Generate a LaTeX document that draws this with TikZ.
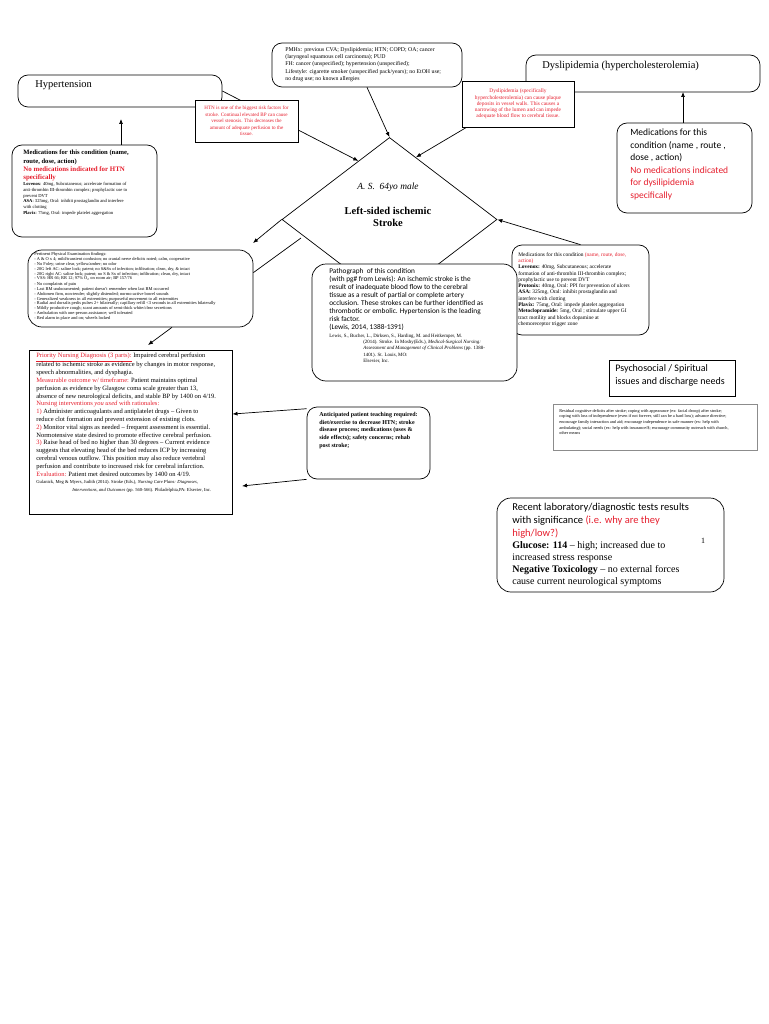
\documentclass[tikz,border=0pt]{standalone}
\usepackage{fontspec}
\setmainfont{Liberation Serif}
\newfontfamily\calibri{Carlito}
\usetikzlibrary{arrows.meta,shapes.geometric,shadows}
\definecolor{notered}{RGB}{230,30,45}
\newcommand{\fsz}[2]{\fontsize{#1}{#2}\selectfont}

\begin{document}
\begin{tikzpicture}[x=1pt,y=-1pt,line width=0.7pt,>={Latex[length=5pt,width=4pt]},
    bubble/.style={draw,fill=white,rounded corners=10pt,inner sep=0pt},
    redbox/.style={draw,fill=white,inner sep=0pt,align=center,text=notered,
      drop shadow={shadow xshift=1.3pt,shadow yshift=-1.3pt,opacity=1,fill=black}},
    txt/.style={inner sep=0pt,anchor=north west,align=flush left}]
  \fill[white] (0,0) rectangle (768,1024);
  \useasboundingbox (0,0) rectangle (768,1024);

  % history and the two conditions on top
  \node[bubble,minimum width=190pt,minimum height=44pt] (pmhx) at (367,65) {};
  \node[txt,font=\fsz{5.8}{7.3}] at (285,47) {PMHx: previous CVA; Dyslipidemia; HTN; COPD; OA; cancer\\
    (laryngeal squamous cell carcinoma); PUD\\
    FH: cancer (unspecified); hypertension (unspecified);\\
    Lifestyle: cigarette smoker (unspecified pack/years); no EtOH use;\\
    no drug use; no known allergies};
  \node[bubble,minimum width=204pt,minimum height=32pt] (htn) at (120,91) {};
  \node[anchor=base west,inner sep=0pt,font=\fsz{10.5}{12}] at (35,88) {Hypertension};
  \node[bubble,minimum width=234pt,minimum height=37pt] (dys) at (643,73.5) {};
  \node[anchor=base west,inner sep=0pt,font=\fsz{10.5}{12}] at (542,69) {Dyslipidemia (hypercholesterolemia)};

  % medications under each condition
  \node[bubble,minimum width=145pt,minimum height=92pt] (htnmeds) at (84.5,191) {};
  \node[txt,text width=132pt] at (23,150) {%
    {\fsz{6.6}{9}\bfseries Medications for this condition (name,\\ route, dose, action)\par}
    {\fsz{6.9}{8}\bfseries\color{notered} No medications indicated for HTN\\ specifically\par}
    {\fsz{4.6}{5.7}\textbf{Lovenox}: 40mg, Subcutaneous; accelerate formation of\\
      anti-thrombin III-thrombin complex; prophylactic use to\\ prevent DVT\\
      \textbf{ASA}: 325mg, Oral: inhibit prostaglandin and interfere\\ with clotting\\
      \textbf{Plavix}: 75mg, Oral: impede platelet aggregation\par}};
  \node[bubble,minimum width=135pt,minimum height=90pt] (dysmeds) at (684.5,168) {};
  \node[txt,font=\calibri\fsz{9.5}{12.5}] at (630,129) {Medications for this\\
    condition (name , route ,\\ dose , action)\\
    \textcolor{notered}{No medications indicated}\\
    \textcolor{notered}{for dysilipidemia}\\
    \textcolor{notered}{specifically}};
  \coordinate (htntip) at (121,119);
  \coordinate (dystip) at (683,92);
  \draw[->] (htnmeds.north -| htntip) -- (htntip);
  \draw[->] (dysmeds.north -| dystip) -- (dystip);

  % the diagnosis
  \node[draw,diamond,minimum width=215pt,minimum height=164pt,inner sep=0pt] (stroke) at (389.5,219.5) {};
  \node[font=\fsz{9.4}{11}\itshape] at (388,187) {A. S.\ \ 64yo male};
  \node[font=\fsz{10.5}{12}\bfseries,align=center] at (388,217) {Left-sided ischemic\\Stroke};

  \draw[->] (pmhx.south) -- (stroke.north);
  \draw[->] (htn.east) -- (stroke.118);
  \draw[->] (dys.south west) -- (stroke.67);

  % red notes sit over the connectors
  \node[redbox,minimum width=103pt,minimum height=42pt,font=\fsz{5.1}{6.6}] (htnnote) at (246.5,121)
    {HTN is one of the biggest risk factors for\\ stroke. Continual elevated BP can cause\\
     vessel stenosis. This decreases the\\ amount of adequate perfusion to the\\ tissue.};
  \node[redbox,minimum width=112pt,minimum height=46pt,font=\fsz{5.4}{6.2}] (dysnote) at (518,104)
    {Dyslipidemia (specifically\\ hypercholesterolemia) can cause plaque\\
     deposits in vessel walls. This causes a\\ narrowing of the lumen and can impede\\
     adequate blood flow to cerebral tissue.};

  % physical exam
  \node[bubble,rounded corners=14pt,minimum width=225pt,minimum height=77pt] (exam) at (140.5,288.5) {};
  \node[txt,font=\fsz{4.4}{4.8}] at (34,252.5) {Pertinent Physical Examination findings:\\
    - A \& O x 4; mild/transient confusion; no cranial nerve deficits noted; calm, cooperative\\
    - No Foley; urine clear, yellow/amber; no odor\\
    - 20G left AC: saline lock; patent; no S\&Sx of infection; infiltration; clean, dry, \& intact\\
    - 20G right AC: saline lock; patent; no S \& Sx of infection; infiltration; clean, dry, intact\\
    - VSS: HR 66; RR 12; 97\% O\textsubscript{2} on room air; BP 157/76\\[1pt]
    - No complaints of pain\\
    - Last BM undocumented; patient doesn't remember when last BM occurred\\
    - Abdomen firm, non-tender; slightly distended; normo-active bowel sounds\\
    - Generalized weakness in all extremities; purposeful movement to all extremities\\
    - Radial and dorsalis pedis pulses 2+ bilaterally; capillary refill <3 seconds in all extremities bilaterally\\
    - Mildly productive cough; scant amounts of semi-thick white/clear secretions\\
    - Ambulation with one-person assistance; well tolerated\\
    - Bed alarm in place and on; wheels locked};
  \coordinate (examtip) at (253,243);
  \coordinate (examend) at (301,238);
  \draw[->] (stroke.west) -- (examtip);
  \draw (exam.8) -- (examend);

  % right hand medications
  \node[bubble,minimum width=137pt,minimum height=90pt] (rmeds) at (580.5,290) {};
  \node[txt,font=\fsz{5.4}{6.3}] at (518,252) {Medications for this condition \textcolor{notered}{(name, route, dose,}\\
    \textcolor{notered}{action)}\\
    \textbf{Lovenox:} 40mg, Subcutaneous; accelerate\\
    formation of anti-thrombin III-thrombin complex;\\
    prophylactic use to prevent DVT\\
    \textbf{Protonix:} 40mg, Oral: PPI for prevention of ulcers\\
    \textbf{ASA:} 325mg, Oral: inhibit prostaglandin and\\
    interfere with clotting\\
    \textbf{Plavix:} 75mg, Oral: impede platelet aggregation\\
    \textbf{Metoclopramide:} 5mg, Oral ; stimulate upper GI\\
    tract motility and blocks dopamine at\\
    chemoreceptor trigger zone};
  \draw[->] (rmeds.north) -- (stroke.east);

  % pathograph covers the lower tip of the diamond
  \node[bubble,rounded corners=14pt,minimum width=205pt,minimum height=117pt] (patho) at (414.5,322.5) {};
  \node[txt,font=\calibri\fsz{7.3}{7.9}] at (329,268.5) {Pathograph\ \ of this condition\\
    (with pg\# from Lewis): An ischemic stroke is the\\
    result of inadequate blood flow to the cerebral\\
    tissue as a result of partial or complete artery\\
    occlusion. These strokes can be further identified as\\
    thrombotic or embolic. Hypertension is the leading\\
    risk factor.\\
    (Lewis, 2014, 1388-1391)};
  \node[txt,font=\fsz{4.9}{6.3}] at (329,333.5) {Lewis, S., Bucher, L., Dirksen, S., Harding, M. and Heitkemper, M.\\
    \hspace*{34pt}(2014). Stroke. In Mosby(Eds.), \textit{Medical-Surgical Nursing:}\\
    \hspace*{34pt}\textit{Assessment and Management of Clinical Problems} (pp. 1388-\\
    \hspace*{34pt}1401). St. Louis, MO:\\
    \hspace*{34pt}Elsevier, Inc.};

  % nursing diagnosis
  \node[draw,line width=1pt,minimum width=203pt,minimum height=164pt,inner sep=0pt] (prio) at (130.5,432) {};
  \node[txt,font=\fsz{6.5}{7.8}] at (36,353) {\textcolor{notered}{\underline{Priority Nursing Diagnosis (3 parts):}} Impaired cerebral perfusion\\
    related to ischemic stroke as evidence by changes in motor response,\\
    speech abnormalities, and dysphagia.\\
    \textcolor{notered}{Measurable outcome w/ timeframe:} Patient maintains optimal\\
    perfusion as evidence by Glasgow coma scale greater than 13,\\
    absence of new neurological deficits, and stable BP by 1400 on 4/19.\\
    \textcolor{notered}{Nursing interventions \textit{you used} with rationales:}\\
    \textcolor{notered}{1)} Administer anticoagulants and antiplatelet drugs -- Given to\\
    reduce clot formation and prevent extension of existing clots.\\
    \textcolor{notered}{2)} Monitor vital signs as needed -- frequent assessment is essential.\\
    Normotensive state desired to promote effective cerebral perfusion.\\
    \textcolor{notered}{3)} Raise head of bed no higher than 30 degrees -- Current evidence\\
    suggests that elevating head of the bed reduces ICP by increasing\\
    cerebral venous outflow. This position may also reduce vertebral\\
    perfusion and contribute to increased risk for cerebral infarction.\\
    \textcolor{notered}{Evaluation:} Patient met desired outcomes by 1400 on 4/19.\\
    {\fsz{4.6}{6.5}Gulanick, Meg \& Myers, Judith (2014). Stroke (Eds.), \textit{Nursing Care Plans: Diagnoses,}}\\
    {\fsz{4.6}{6.5}\hspace*{36pt}\textit{Interventions, and Outcomes} (pp. 560-566). Philadelphia,PA: Elsevier, Inc.}};
  \coordinate (priotip) at (148,345);
  \draw[->] (exam.-51) -- (priotip);

  % teaching
  \node[bubble,minimum width=123pt,minimum height=72pt] (teach) at (368.5,443) {};
  \node[txt,font=\fsz{6}{7.7}\bfseries] at (319,412) {Anticipated patient teaching required:\\
    diet/exercise to decrease HTN; stroke\\
    disease process; medications (uses \&\\
    side effects); safety concerns; rehab\\
    post stroke;};
  \coordinate (teachtip) at (242,486);
  \draw[->] (teach.151) -- (prio.10.6);
  \draw[->] (teach.south west) -- (teachtip);

  % psychosocial and labs
  \node[draw,fill=white,minimum width=126pt,minimum height=36pt,inner sep=0pt,
    drop shadow={shadow xshift=1.3pt,shadow yshift=-1.3pt,opacity=1,fill=black}] (psych) at (672,378) {};
  \node[txt,font=\calibri\fsz{10}{13}] at (615,364) {Psychosocial / Spiritual\\ issues and discharge needs};
  \node[draw=black!45,line width=0.5pt,minimum width=204pt,minimum height=46pt,inner sep=0pt] (needs) at (655,427) {};
  \node[txt,font=\fsz{4.3}{5.6}] at (559,409) {Residual cognitive deficits after stroke; coping with appearance (ex: facial droop) after stroke;\\
    coping with loss of independence (even if not forever, still can be a hard loss); advance directive;\\
    encourage family interaction and aid; encourage independence in safe manner (ex: help with\\
    ambulating); social needs (ex: help with insurance/\$; encourage community outreach with church,\\
    other means};
  \node[bubble,rounded corners=14pt,minimum width=227pt,minimum height=94pt] (lab) at (610.5,545) {};
  \node[txt,text width=215pt] at (512,503) {%
    {\calibri\fsz{10.5}{13}Recent laboratory/diagnostic tests results\\
      with significance \textcolor{notered}{(i.e. why are they}\\
      \textcolor{notered}{high/low?)}\par}
    {\fsz{10}{12}\textbf{Glucose: 114} -- high; increased due to\\
      increased stress response\\
      \textbf{Negative Toxicology} -- no external forces\\
      cause current neurological symptoms\par}};
  \node[font=\fsz{8}{9}] (pagenum) at (703,541) {1};
\end{tikzpicture}
\end{document}
